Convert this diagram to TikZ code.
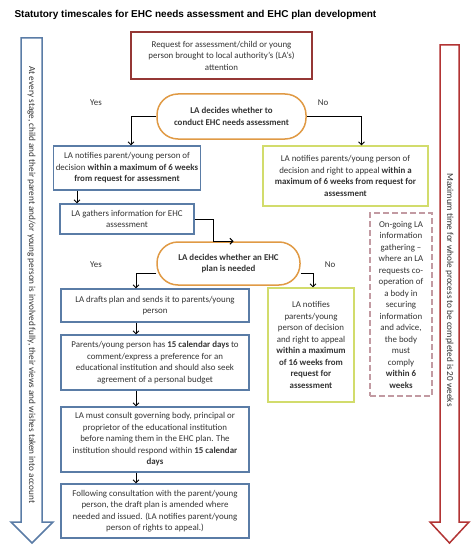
\documentclass[tikz,border=0pt]{standalone}
\usepackage{fontspec}
\setmainfont{Carlito}
\newfontfamily\titlefont{Liberation Sans}
\usetikzlibrary{arrows.meta,positioning}
\definecolor{Frame}{HTML}{5A7CA6}
\definecolor{Wine}{HTML}{953735}
\definecolor{Amber}{HTML}{E09A45}
\definecolor{Lime}{HTML}{D2DC6C}
\definecolor{Rose}{HTML}{C29AA2}
\definecolor{Crimson}{HTML}{B23434}
\tikzset{
  flow/.style={-{Straight Barb[length=3pt,width=6pt]},line width=0.9pt,draw=black},
  stagebox/.style={draw=Frame,line width=1.2pt,align=center,inner sep=2pt,
    font=\fontsize{8.9}{11.5}\selectfont,text=black!80},
  choice/.style={stagebox,draw=Amber,line width=1.5pt,rounded corners=21pt},
  appealbox/.style={stagebox,draw=Lime},
  sidebox/.style={stagebox,draw=Rose,line width=2pt,dash pattern=on 6pt off 3pt},
  answer/.style={font=\fontsize{8.9}{11.5}\selectfont,text=black!80},
  sideways/.style={font=\fontsize{9.2}{11.5}\selectfont,text=black!80,rotate=-90},
}
\begin{document}
\begin{tikzpicture}[x=1pt,y=-1pt]
    \useasboundingbox (0,0) rectangle (474,559);
    \node[anchor=west,font=\titlefont\fontsize{10}{12}\selectfont\bfseries] (title) at (11,15) {Statutory timescales for EHC needs assessment and EHC plan development};

    \draw[Frame,line width=1.5pt,fill=white] (21,38) -- (42,38) -- (42,522) -- (53,522) -- (32,543) -- (11,522) -- (21,522) -- cycle;
    \node[sideways] (involve) at (31.5,285) {At every stage, child and their parent and/or young person is involved fully, their views and wishes taken into account};
    \draw[Crimson,line width=1.5pt,fill=white] (440,45) -- (459,45) -- (459,522) -- (469,522) -- (449.5,543) -- (430,522) -- (440,522) -- cycle;
    \node[sideways] (maxtime) at (449.5,290) {Maximum time for whole process to be completed is 20 weeks};

    \node[stagebox,draw=Wine,minimum width=181pt,minimum height=47pt] (request) at (221.5,55.5) {Request for assessment/child or young\\person brought to local authority's (LA's)\\attention};
    \node[choice,minimum width=149pt,minimum height=45pt] (assess) at (231.5,116.5) {\textbf{LA decides whether to}\\\textbf{conduct EHC needs assessment}};
    \node[answer] (yes1) at (96,103) {Yes};
    \node[answer] (no1) at (323,103) {No};

    \node[stagebox,minimum width=134pt,minimum height=44pt] (notify) at (127,168) {LA notifies parent/young person of\\decision \textbf{within a maximum of 6 weeks}\\\textbf{from request for assessment}};
    \node[appealbox,minimum width=165pt,minimum height=60pt] (refuse) at (345.5,176) {LA notifies parents/young person of\\decision and right to appeal \textbf{within a}\\\textbf{maximum of 6 weeks from request for}\\\textbf{assessment}};
    \node[stagebox,minimum width=134pt,minimum height=30pt] (gather) at (127,219) {LA gathers information for EHC\\assessment};

    \node[choice,minimum width=143pt,minimum height=43pt] (plan) at (228.5,263.5) {\textbf{LA decides whether an EHC}\\\textbf{plan is needed}};
    \node[answer] (yes2) at (96,265) {Yes};
    \node[answer] (no2) at (330,265) {No};

    \node[stagebox,minimum width=188pt,minimum height=33pt] (drafts) at (155,305.5) {LA drafts plan and sends it to parents/young\\person};
    \node[stagebox,minimum width=188pt,minimum height=55pt] (budget) at (155,362.5) {Parents/young person has \textbf{15 calendar days} to\\comment/express a preference for an\\educational institution and should also seek\\agreement of a personal budget};
    \node[stagebox,minimum width=188pt,minimum height=65pt] (consult) at (155,439.5) {LA must consult governing body, principal or\\proprietor of the educational institution\\before naming them in the EHC plan. The\\institution should respond within \textbf{15 calendar}\\\textbf{days}};
    \node[stagebox,minimum width=188pt,minimum height=54pt] (issue) at (155,511) {Following consultation with the parent/young\\person, the draft plan is amended where\\needed and issued. (LA notifies parent/young\\person of rights to appeal.)};

    \node[appealbox,minimum width=86pt,minimum height=114pt] (decline) at (311,345) {LA notifies\\parents/young\\person of decision\\and right to appeal\\\textbf{within a maximum}\\\textbf{of 16 weeks from}\\\textbf{request for}\\\textbf{assessment}};
    \node[sidebox,minimum width=62pt,minimum height=183pt] (ongoing) at (401,304.5) {On-going LA\\information\\gathering --\\where an LA\\requests co-\\operation of\\a body in\\securing\\information\\and advice,\\the body\\must\\comply\\\textbf{within 6}\\\textbf{weeks}};

    \draw[flow] (assess.west) -| ([xshift=4pt]notify.north);
    \draw[flow] (assess.east) -| ([xshift=16pt]refuse.north);
    \draw[flow] ([xshift=-50pt]notify.south) -- ([xshift=-50pt]gather.north);
    \draw[flow] (gather.east) -- ++(19,0) |- ([xshift=5pt]plan.north);
    \draw[flow] ([yshift=-10pt]plan.west) -| ([xshift=-19pt]drafts.north);
    \draw[flow] ([yshift=-10pt]plan.east) -| ([xshift=2pt]decline.north);
    \draw[flow] ([xshift=-19pt]drafts.south) -- ([xshift=-19pt]budget.north);
    \draw[flow] ([xshift=-19pt]budget.south) -- ([xshift=-19pt]consult.north);
    \draw[flow] ([xshift=-19pt]consult.south) -- ([xshift=-19pt]issue.north);
  \end{tikzpicture}
\end{document}
